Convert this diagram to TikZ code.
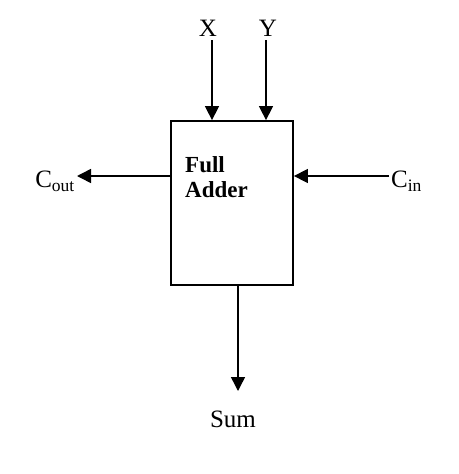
\documentclass[tikz,border=0pt]{standalone}
\usepackage{fontspec}
\setmainfont{Liberation Serif}
\usetikzlibrary{arrows.meta}
\begin{document}
\begin{tikzpicture}[x=1pt,y=-1pt,
  lbl/.style={font=\fontsize{25}{29}\selectfont, inner sep=1pt},
  blk/.style={draw, line width=1.8pt, minimum width=122pt, minimum height=164pt, inner sep=0pt},
  sig/.style={line width=1.5pt, -{Triangle[width=14pt,length=14pt]}}]
\useasboundingbox (0,0) rectangle (458,474);
\node[blk] (fa) at (232,203) {};
\node[font=\fontsize{23}{25}\selectfont\bfseries, align=left, anchor=north west, inner sep=0pt] (txt) at (185,156) {Full\\Adder};
\node[lbl] (x) at (208,28) {X};
\node[lbl] (y) at (268,28) {Y};
\node[lbl, anchor=east] (cout) at (76,181) {C\textsubscript{out}};
\node[lbl, anchor=west] (cin) at (390,181) {C\textsubscript{in}};
\node[lbl] (sum) at (233,419) {Sum};
\coordinate (xt) at (212,40);
\coordinate (yt) at (266,40);
\coordinate (cint) at (389,176);
\coordinate (coutt) at (77,176);
\coordinate (sumt) at (238,391);
\draw[sig] (xt) -- (xt |- fa.north);
\draw[sig] (yt) -- (yt |- fa.north);
\draw[sig] (cint) -- (cint -| fa.east);
\draw[sig] (coutt -| fa.west) -- (coutt);
\draw[sig] (sumt |- fa.south) -- (sumt);
\end{tikzpicture}
\end{document}
